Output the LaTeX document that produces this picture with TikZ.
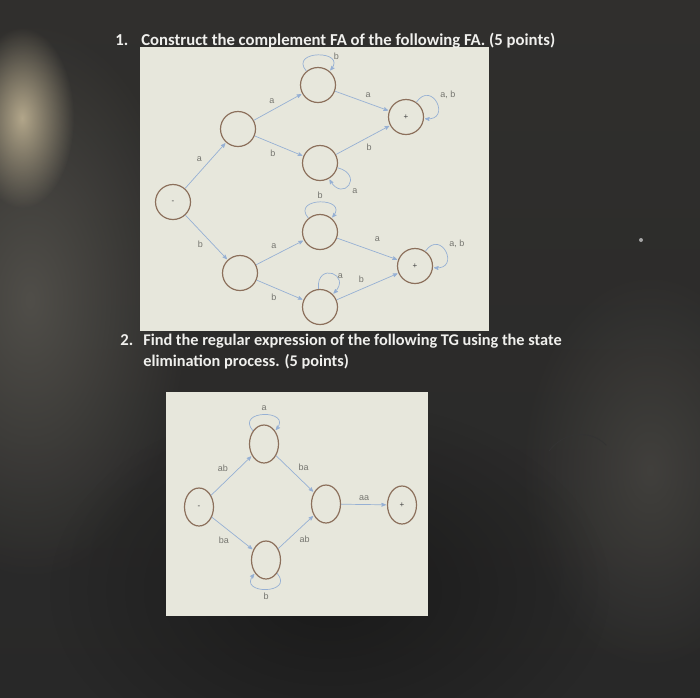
\documentclass[tikz,border=0pt]{standalone}
\usepackage{fontspec}
\setmainfont{Carlito}
\newfontfamily\lblfont{Liberation Sans}
\usetikzlibrary{arrows,automata,shapes.geometric,fadings}

\definecolor{bgtop}{RGB}{48,47,45}
\definecolor{bgbottom}{RGB}{40,40,40}
\definecolor{glare}{RGB}{178,166,138}
\definecolor{haze}{RGB}{80,78,73}
\definecolor{shadow}{RGB}{26,26,26}
\definecolor{sheet}{RGB}{231,231,220}
\definecolor{ring}{RGB}{140,112,92}
\definecolor{wire}{RGB}{150,176,212}
\definecolor{lbl}{RGB}{118,118,112}
\definecolor{ink}{RGB}{240,240,237}

\tikzfading[name=blob,inner color=transparent!0,outer color=transparent!100]

\begin{document}
\begin{tikzpicture}[x=1pt,y=-1pt,->,>=stealth',shorten >=1pt,auto,
                    semithick]

  \tikzstyle{every state}=[circle,draw=ring,line width=1.2pt,fill=none,
                           minimum size=35pt,inner sep=0pt,text=black!75,
                           font=\lblfont\fontsize{8}{8}\selectfont]
  \tikzstyle{every edge}=[draw=wire,line width=0.7pt]
  \tikzstyle{every loop}=[distance=28pt]
  \tikzstyle{lbl}=[font=\lblfont\fontsize{9}{9}\selectfont,text=lbl]
  \tikzstyle{heading}=[font=\bfseries\fontsize{16.7}{21}\selectfont,text=ink,
                       inner sep=0pt,align=left]
  \tikzstyle{tall}=[ellipse,minimum width=29pt,minimum height=38pt]

  % photo background
  \useasboundingbox (0,0) rectangle (700,697);
  \shade[top color=bgtop,bottom color=bgbottom] (0,0) rectangle (700,697);
  \fill[haze,path fading=blob] (30,300) ellipse (160 and 280);
  \fill[haze,path fading=blob,opacity=0.6] (650,470) ellipse (130 and 200);
  \fill[shadow,path fading=blob] (330,590) ellipse (280 and 190);
  \fill[glare,path fading=blob] (22,118) ellipse (52 and 90);
  \draw[-,black!80,line width=0.8pt] (549,451) .. controls (565,430) and (592,430) .. (607,446);
  \fill[black!35] (641,240) circle (2);

  % question 1
  \fill[sheet] (140,47) rectangle (489,331);
  \node[heading,anchor=base west] (num1) at (115,45) {1.};
  \node[heading,anchor=base west] (head1) at (141,45)
       {Construct the complement FA of the following FA. (5 points)};

  \node[state] (S)  at (173,202) {-};
  \node[state] (A)  at (238,129) {};
  \node[state] (B)  at (318,85)  {};
  \node[state] (C)  at (320,163) {};
  \node[state] (D)  at (406,117) {+};
  \node[state] (E)  at (240,273) {};
  \node[state] (F)  at (320,232) {};
  \node[state] (G)  at (320,307) {};
  \node[state] (H)  at (415,266) {+};

  \path (S) edge node[lbl] {a} (A)
        (A) edge node[lbl] {a} (B)
            edge node[lbl,swap] {b} (C)
        (B) edge [out=130,in=50,distance=22pt,loop]
                 node[lbl,pos=0.8,above right,inner sep=1pt] {b} ()
            edge node[lbl] {a} (D)
        (C) edge [out=-15,in=-60,distance=24pt,loop] node[lbl] {a} ()
            edge node[lbl,swap] {b} (D)
        (D) edge [out=55,in=-5,loop] node[lbl] {a, b} ()
        (S) edge node[lbl,swap] {b} (E)
        (E) edge node[lbl] {a} (F)
            edge node[lbl,swap] {b} (G)
        (F) edge [out=130,in=50,distance=22pt,loop] node[lbl] {b} ()
            edge node[lbl,inner sep=7pt] {a} (H)
        (G) edge [out=95,in=45,distance=18pt,loop]
                 node[lbl,pos=0.6,right,inner sep=2pt] {a} ()
            edge node[lbl] {b} (H)
        (H) edge [out=55,in=-5,loop] node[lbl] {a, b} ();

  % question 2
  \fill[sheet] (166,392) rectangle (428,616);
  \node[heading,anchor=base west] (num2) at (120,345) {2.};
  \node[heading,anchor=base west,font=\bfseries\fontsize{16.3}{21}\selectfont]
       (head2) at (143,366)
       {Find the regular expression of the following TG using the state\\
        elimination process. (5 points)};

  \node[state,tall] (S2) at (199,507) {-};
  \node[state,tall] (T)  at (264,444) {};
  \node[state,tall] (U)  at (266,560) {};
  \node[state,tall] (M)  at (326,504) {};
  \node[state,tall] (P)  at (402,505) {+};

  \path (S2) edge node[lbl] {ab} (T)
             edge node[lbl,swap] {ba} (U)
        (T)  edge [out=130,in=50,distance=24pt,loop] node[lbl] {a} ()
             edge node[lbl] {ba} (M)
        (U)  edge [out=-50,in=-130,distance=22pt,loop] node[lbl] {b} ()
             edge node[lbl,swap] {ab} (M)
        (M)  edge node[lbl] {aa} (P);
\end{tikzpicture}
\end{document}
